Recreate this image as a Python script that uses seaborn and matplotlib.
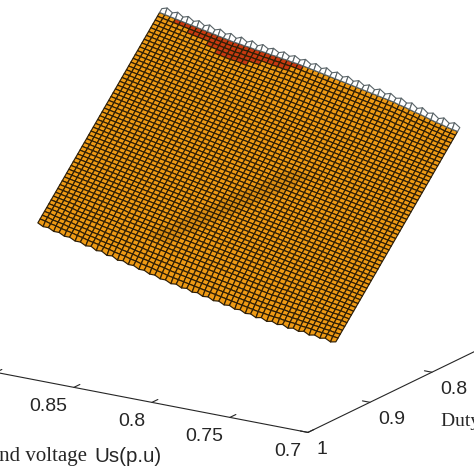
import numpy as np
import matplotlib
matplotlib.use('Agg')
import matplotlib.pyplot as plt
from matplotlib.colors import to_rgba
from matplotlib.transforms import ScaledTranslation
import seaborn as sns

sns.set_style('white')
plt.rcParams['font.family'] = ['Liberation Sans', 'DejaVu Sans']

us_ticks = [0.7, 0.75, 0.8, 0.85, 0.9, 0.95, 1.0]
us_labels = ['0.7', '0.75', '0.8', '0.85', '0.9', '0.95', '1']
duty_ticks = [0.4, 0.5, 0.6, 0.7, 0.8, 0.9, 1.0]
duty_labels = ['0.4', '0.5', '0.6', '0.7', '0.8', '0.9', '1']

us_grid = [0.7, 0.7034, 0.7068, 0.7102, 0.7136, 0.7171, 0.7205, 0.7239, 0.7273, 0.7307,
           0.7341, 0.7375, 0.7409, 0.7443, 0.7478, 0.7512, 0.7546, 0.758, 0.7614, 0.7648,
           0.7682, 0.7716, 0.775, 0.7785, 0.7819, 0.7853, 0.7887, 0.7921, 0.7955, 0.7989,
           0.8023, 0.8057, 0.8092, 0.8126, 0.816, 0.8194, 0.8228, 0.8262, 0.8296, 0.833,
           0.8364, 0.8399, 0.8433, 0.8467, 0.8501, 0.8535, 0.8569, 0.8603, 0.8637, 0.8671,
           0.8706, 0.874, 0.8774, 0.8808, 0.8842, 0.8876, 0.891]
duty_grid = [0.955, 0.9514, 0.9479, 0.9443, 0.9407, 0.9371, 0.9336, 0.93, 0.9264, 0.9229,
             0.9193, 0.9157, 0.9121, 0.9086, 0.905, 0.9014, 0.8979, 0.8943, 0.8907, 0.8871,
             0.8836, 0.88, 0.8764, 0.8729, 0.8693, 0.8657, 0.8621, 0.8586, 0.855, 0.8514,
             0.8479, 0.8443, 0.8407, 0.8371, 0.8336, 0.83, 0.8264, 0.8229, 0.8193, 0.8157,
             0.8121, 0.8086, 0.805, 0.8014, 0.7979, 0.7943, 0.7907, 0.7871, 0.7836, 0.78,
             0.7764, 0.7729, 0.7693, 0.7657, 0.7621, 0.7586, 0.755]

# surface height, one row per duty value
height = [
[140,138,143,141,145,143,148,146,150,148,153,151,155,153,158,156,161,160,165,164,169,168,173,172,177,176,181,180,185,184,189,188,193,193,198,198,203,203,208,208,213,212,218,217,223,222,228,227,232,232,237,237,242,242,247,247,252],
[145,146,148,149,150,152,153,154,156,157,158,160,161,162,164,165,167,169,171,173,175,177,179,181,183,185,187,189,191,193,195,197,199,202,204,207,209,211,214,216,219,221,223,226,228,231,233,235,238,240,243,245,247,250,252,255,257],
[150,151,153,154,156,157,159,160,162,163,165,166,168,169,171,172,174,176,178,180,182,184,186,188,190,192,194,196,198,200,202,204,206,209,211,213,216,218,220,223,225,227,230,232,234,236,239,241,243,246,248,250,253,255,257,260,262],
[155,157,158,160,161,163,164,166,167,169,170,172,173,175,176,178,180,182,184,186,188,190,192,194,196,198,200,202,204,206,208,210,212,215,217,219,221,224,226,228,231,233,235,237,240,242,244,246,249,251,253,256,258,260,262,265,267],
[160,162,163,165,166,168,170,171,173,174,176,178,179,181,182,184,186,188,190,192,194,196,198,200,202,204,206,208,210,212,214,216,218,220,223,225,227,229,232,234,236,238,241,243,245,247,250,252,254,256,259,261,263,265,268,270,272],
[165,167,168,170,172,174,175,177,179,181,182,184,186,188,189,191,193,195,197,199,201,203,205,207,209,211,213,215,217,219,221,223,225,227,230,232,234,236,238,240,242,245,247,249,251,253,255,258,260,262,264,266,268,271,273,275,277],
[170,172,174,175,177,179,181,183,184,186,188,190,192,193,195,197,199,201,203,205,207,209,211,213,215,217,219,221,223,225,227,229,231,233,235,237,240,242,244,246,248,250,252,254,257,259,261,263,265,267,269,271,274,276,278,280,282],
[175,177,179,180,182,184,186,188,189,191,193,195,197,198,200,202,204,206,208,210,212,214,216,218,220,222,224,226,228,230,232,234,236,238,240,242,245,247,249,251,253,255,257,259,262,264,266,268,270,272,274,276,279,281,283,285,287],
[180,182,184,186,187,189,191,193,195,197,199,201,202,204,206,208,210,212,214,216,218,220,222,224,226,228,230,232,234,236,238,240,242,244,246,248,250,252,255,257,259,261,263,265,267,269,271,273,275,277,280,282,284,286,288,290,292],
[185,187,189,191,193,195,197,199,200,202,204,206,208,210,212,214,216,218,220,222,224,226,228,230,232,234,236,238,240,242,244,246,248,250,252,254,256,258,260,262,264,266,268,270,273,275,277,279,281,283,285,287,289,291,293,295,297],
[190,192,194,196,198,200,202,204,205,207,209,211,213,215,217,219,221,223,225,227,229,231,233,235,237,239,241,243,245,247,249,251,253,255,257,259,261,263,265,267,269,271,273,275,278,280,282,284,286,288,290,292,294,296,298,300,302],
[195,197,199,201,203,205,207,209,211,213,215,217,219,221,223,225,227,229,231,233,235,237,239,241,243,245,247,249,251,253,255,257,259,261,263,265,267,269,271,273,275,277,279,281,283,285,287,289,291,293,295,297,299,301,303,305,307],
[200,202,204,206,208,210,212,214,216,218,220,222,224,226,228,230,232,234,236,238,240,242,244,246,248,250,252,254,256,258,260,262,264,266,268,270,272,274,276,278,280,282,284,286,288,290,292,294,296,298,300,302,304,306,308,310,312],
[205,207,209,211,213,215,217,219,221,223,225,227,229,231,233,235,237,239,241,243,245,247,249,251,253,255,257,259,261,263,265,267,269,271,273,275,277,279,281,283,285,287,289,291,293,295,297,299,301,303,305,307,309,311,313,315,317],
[210,212,214,216,218,220,222,224,226,228,230,232,234,236,238,240,242,244,246,248,250,252,254,256,258,260,262,264,266,268,270,272,274,276,278,280,282,284,286,288,290,292,294,296,298,300,302,304,306,308,310,312,314,316,318,320,322],
[215,217,219,221,223,225,227,229,231,233,235,237,239,241,243,245,247,249,251,253,255,257,259,261,263,265,267,269,271,273,275,277,279,281,283,285,287,289,291,293,295,297,299,301,303,305,307,309,311,313,315,317,319,321,323,325,327],
[220,222,224,226,228,230,232,234,236,238,240,242,244,246,248,250,252,254,256,258,260,262,264,266,268,270,272,274,276,278,280,282,284,286,288,290,292,294,296,298,300,302,304,306,308,310,312,314,316,318,320,322,324,326,328,330,332],
[225,227,229,231,233,235,237,239,241,243,245,247,249,251,253,255,257,259,261,263,265,267,269,271,273,275,277,279,281,283,285,287,289,291,293,295,297,299,301,303,305,307,309,311,313,315,317,319,321,323,325,327,329,331,333,335,337],
[230,232,234,236,238,240,242,244,246,248,250,252,254,256,258,260,262,264,266,268,270,272,274,276,278,280,282,284,286,288,290,292,294,296,298,300,302,304,306,308,310,312,314,316,318,320,322,324,326,328,330,332,334,336,338,340,342],
[235,237,239,241,243,245,247,249,251,253,255,257,259,261,263,265,267,269,271,273,275,277,279,281,283,285,287,289,291,293,295,297,299,301,303,305,307,309,311,313,315,317,319,321,323,325,327,329,331,333,335,337,339,341,343,345,347],
[240,242,244,246,248,250,252,254,256,258,260,262,264,266,268,270,272,274,276,278,280,282,284,286,288,290,292,294,296,298,300,302,304,306,308,310,312,314,316,318,320,322,324,326,328,330,332,334,336,338,340,342,344,346,348,350,352],
[245,247,249,251,253,255,257,259,261,263,265,267,269,271,273,275,277,279,281,283,285,287,289,291,293,295,297,299,301,303,305,307,309,311,313,315,317,319,321,323,325,327,329,331,333,335,337,339,341,343,345,347,349,351,353,355,357],
[250,252,254,256,258,260,262,264,266,268,270,272,274,276,278,280,282,284,286,288,290,292,294,296,298,300,302,304,306,308,310,312,314,316,318,320,322,324,326,328,330,332,334,336,338,340,342,344,346,348,350,352,354,356,358,360,362],
[255,257,259,261,263,265,267,269,271,273,275,277,279,281,283,285,287,289,291,293,295,297,299,301,303,305,307,309,311,313,315,317,319,321,323,325,327,329,331,333,335,337,339,341,343,345,347,349,351,353,355,357,359,361,363,365,367],
[260,262,264,266,268,270,272,274,276,278,280,282,284,286,288,290,292,294,296,298,300,302,304,306,308,310,312,314,316,318,320,322,324,326,328,330,332,334,336,338,340,342,344,346,348,350,352,354,356,358,360,362,364,366,368,370,372],
[265,267,269,271,273,275,277,279,281,283,285,287,289,291,293,295,297,299,301,303,305,307,309,311,313,315,317,319,321,323,325,327,329,331,333,335,337,339,341,343,345,347,349,351,353,355,357,359,361,363,365,367,369,371,373,375,377],
[270,272,274,276,278,280,282,284,286,288,290,292,294,296,298,300,302,304,306,308,310,312,314,316,318,320,322,324,326,328,330,332,334,336,338,340,342,344,346,348,350,352,354,356,358,360,362,364,366,368,370,372,374,376,378,380,382],
[275,277,279,281,283,285,287,289,291,293,295,297,299,301,303,305,307,309,311,313,315,317,319,321,323,325,327,329,331,333,335,337,339,341,343,345,347,349,351,353,355,357,359,361,363,365,367,369,371,373,375,377,379,381,383,385,387],
[280,282,284,286,288,290,292,294,296,298,300,302,304,306,308,310,312,314,316,318,320,322,324,326,328,330,332,334,336,338,340,342,344,346,348,350,352,354,356,358,360,362,364,366,368,370,372,374,376,378,380,382,384,386,388,390,392],
[285,287,289,291,293,295,297,299,301,303,305,307,309,311,313,315,317,319,321,323,325,327,329,331,333,335,337,339,341,343,345,347,349,351,353,355,357,359,361,363,365,367,369,371,373,375,377,379,381,383,385,387,389,391,393,395,397],
[290,292,294,296,298,300,302,304,306,308,310,312,314,316,318,320,322,324,326,328,330,332,334,336,338,340,342,344,346,348,350,352,354,356,358,360,362,364,366,368,370,372,374,376,378,380,382,384,386,388,390,392,394,396,398,400,402],
[295,297,299,301,303,305,307,309,311,313,315,317,319,321,323,325,327,329,331,333,335,337,339,341,343,345,347,349,351,353,355,357,359,361,363,365,367,369,371,373,375,377,379,381,383,385,387,389,391,393,395,397,399,401,403,405,407],
[300,302,304,306,308,310,312,314,316,318,320,322,324,326,328,330,332,334,336,338,340,342,344,346,348,350,352,354,356,358,360,362,364,366,368,370,372,374,376,378,380,382,384,386,388,390,392,394,396,398,400,402,404,406,408,410,412],
[305,307,309,311,313,315,317,319,321,323,325,327,329,331,333,335,337,339,341,343,345,347,349,351,353,355,357,359,361,363,365,367,369,371,373,375,377,379,381,383,385,387,389,391,393,395,397,399,401,403,405,407,409,411,413,415,417],
[310,312,314,316,318,320,322,324,326,328,330,332,334,336,338,340,342,344,346,348,350,352,354,356,358,360,362,364,366,368,370,372,374,376,378,380,382,384,386,388,390,392,394,396,398,400,402,404,406,408,410,412,414,416,418,420,422],
[315,317,319,321,323,325,327,329,331,333,335,337,339,341,343,345,347,349,351,353,355,357,359,361,363,365,367,369,371,373,375,377,379,381,383,385,387,389,391,393,395,397,399,401,403,405,407,409,411,413,415,417,419,421,423,425,427],
[320,322,324,326,328,330,332,334,336,338,340,342,344,346,348,350,352,354,356,358,360,362,364,366,368,370,372,374,376,378,380,382,384,386,388,390,392,394,396,398,400,402,404,406,408,410,412,414,416,418,420,422,424,426,428,430,432],
[325,327,329,331,333,335,337,339,341,343,345,347,349,351,353,355,357,359,361,363,365,367,369,371,373,375,377,379,381,383,385,387,389,391,393,395,397,399,401,403,405,407,409,411,413,415,417,419,421,423,425,427,429,431,433,435,437],
[330,332,334,336,338,340,342,344,346,348,350,352,354,356,358,360,362,364,366,368,370,372,374,376,378,380,382,384,386,388,390,392,394,396,398,400,402,404,406,408,410,412,414,416,418,420,422,424,426,428,430,432,434,436,438,440,442],
[335,337,339,341,343,345,347,349,351,353,355,357,359,361,363,365,367,369,371,373,375,377,379,381,383,385,387,389,391,393,395,397,399,401,403,405,407,409,411,413,415,417,419,421,423,425,427,429,431,433,435,437,439,441,443,445,447],
[340,342,344,346,348,350,352,354,356,358,360,362,364,366,368,370,372,374,376,378,380,382,384,386,388,390,392,394,396,398,400,402,404,406,408,410,412,414,416,418,420,422,424,426,428,430,432,434,436,438,440,442,444,446,448,450,452],
[345,347,349,351,353,355,357,359,361,363,365,367,369,371,373,375,377,379,381,383,385,387,389,391,393,395,397,399,401,403,405,407,409,411,413,415,417,419,421,423,425,427,429,431,433,435,437,439,441,443,445,447,449,451,453,455,457],
[350,352,354,356,358,360,362,364,366,368,370,372,374,376,378,380,382,384,386,388,390,392,394,396,398,400,402,404,406,408,410,412,414,416,418,420,422,424,426,428,430,432,434,436,438,440,442,444,446,448,450,452,454,456,458,460,462],
[355,357,359,361,363,365,367,369,371,373,375,377,379,381,383,385,387,389,391,393,395,397,399,401,403,405,407,409,411,413,415,417,419,421,423,425,427,429,431,433,435,437,439,441,443,445,447,449,451,453,455,457,459,461,463,465,467],
[360,362,364,366,368,370,372,374,376,378,380,382,384,386,388,390,392,394,396,398,400,402,404,406,408,410,412,414,416,418,420,422,424,426,428,430,432,434,436,438,440,442,444,446,448,450,452,454,456,458,460,462,464,466,468,470,472],
[365,367,369,371,373,375,377,379,381,383,385,387,389,391,393,395,397,399,401,403,405,407,409,411,413,415,417,419,421,423,425,427,429,431,433,435,437,439,441,443,445,447,449,451,453,455,457,459,461,463,465,467,469,471,473,475,477],
[370,372,374,376,378,380,382,385,387,389,391,393,395,397,399,401,403,405,407,409,411,413,415,417,419,421,423,425,427,429,431,433,435,437,439,441,443,444,446,448,450,452,454,456,458,460,462,464,466,468,470,472,474,476,478,480,482],
[375,377,379,381,383,385,387,390,392,394,396,398,400,402,404,406,408,410,412,414,416,418,420,422,424,426,428,430,432,434,436,438,440,442,444,446,448,449,451,453,455,457,459,461,463,465,467,469,471,473,475,477,479,481,483,485,487],
[380,382,384,386,388,391,393,395,397,399,402,404,406,408,410,412,414,416,418,420,422,424,426,428,430,432,434,436,438,440,442,444,446,448,449,451,453,455,457,459,460,462,464,466,468,470,472,474,476,478,480,482,484,486,488,490,492],
[385,387,389,391,394,396,398,401,403,405,407,410,412,414,416,418,420,422,424,426,428,430,432,434,436,438,440,442,444,446,448,450,452,453,455,457,459,460,462,464,466,467,469,471,473,475,477,479,481,483,485,487,489,491,493,495,497],
[390,392,394,396,399,401,403,406,408,410,412,415,417,419,421,423,425,427,429,431,433,435,437,439,441,443,445,447,449,451,453,455,457,458,460,462,464,465,467,469,471,472,474,476,478,480,482,484,486,488,490,492,494,496,498,500,502],
[395,397,399,401,404,406,409,411,413,416,418,421,423,425,427,429,431,433,435,437,439,441,443,445,447,449,451,453,455,457,459,461,462,464,466,467,469,471,472,474,476,477,479,481,483,485,487,489,491,493,495,497,499,501,503,505,507],
[400,402,404,407,409,412,414,417,419,422,424,427,429,431,433,435,437,439,441,443,445,447,449,451,453,455,457,459,461,463,465,467,468,470,471,473,475,476,478,479,481,482,484,486,488,490,492,494,496,498,500,502,504,506,508,510,512],
[405,407,409,412,414,417,419,422,424,427,429,432,434,436,438,440,442,444,446,448,450,452,454,456,458,460,462,464,466,468,470,472,473,475,476,478,480,481,483,484,486,487,489,491,493,495,497,499,501,503,505,507,509,511,513,515,517],
[410,412,414,417,419,422,424,427,430,432,435,437,440,442,444,446,448,450,452,454,456,458,460,462,464,466,468,470,472,474,476,478,479,481,482,484,485,487,488,490,491,493,494,496,498,500,502,504,506,508,510,512,514,516,518,520,522],
[415,417,419,422,424,427,430,433,435,438,441,443,446,448,450,452,454,456,458,460,462,464,466,468,470,472,474,476,478,480,482,483,485,486,488,489,491,492,493,495,496,498,499,501,503,505,507,509,511,513,515,517,519,521,523,525,527],
[420,427,424,432,429,437,435,443,440,448,446,453,451,458,455,462,459,466,463,470,467,474,471,478,475,482,479,486,483,490,487,493,490,496,493,499,496,502,498,505,501,508,504,511,508,515,512,519,516,523,520,527,524,531,528,535,532],
]

# cells that show the red sheet poking through near the far edge
red_rows = [54, 53, 52, 51]
red_from = [29, 31, 36, 38]
red_to = [53, 50, 46, 44]
# slightly darker cells along the crease
crease_rows = list(range(7, 33))
crease_mid = [36, 35, 35, 34, 33, 33, 32, 32, 31, 30, 30, 29, 28, 28, 27, 27, 26, 25, 25, 24, 23, 23, 22, 22, 21, 20]

fig = plt.figure(figsize=(4.74, 4.74), dpi=100)
ax = fig.add_axes([-231 / 474, -114 / 474, 956 / 474, 956 / 474], projection='3d', computed_zorder=False)
ax.set_proj_type('ortho')
ax.view_init(elev=17.8, azim=122.2)
ax.set_box_aspect((553, 698, 420))

X, Y = np.meshgrid(us_grid, duty_grid)
Z = np.array(height)

faces = np.empty((55, 56, 4))
faces[:, :] = to_rgba('#ee9a14')
for r, m in zip(crease_rows, crease_mid):
    faces[r, m - 2:m + 2] = to_rgba('#dc8e12')
for r, a, b in zip(red_rows, red_from, red_to):
    faces[r, a:b] = to_rgba('#c83a10')

ax.plot_surface(X[:56], Y[:56], Z[:56], facecolors=faces, rstride=1, cstride=1,
                edgecolor='#2e1e06', linewidth=0.85, shade=False, zorder=2)
ax.plot_surface(X[55:], Y[55:], Z[55:], color='white', rstride=1, cstride=1,
                edgecolor='#5a6468', linewidth=0.8, shade=False, zorder=3)

ax.set_xlim(0.7, 1.0)
ax.set_ylim(0.4, 1.0)
ax.set_zlim(0, 727)
ax.set_xticks(us_ticks, us_labels, fontsize=14)
ax.set_yticks(duty_ticks, duty_labels, fontsize=14)
ax.set_zticks([])
ax.grid(False)
for a in (ax.xaxis, ax.yaxis, ax.zaxis):
    a.set_pane_color((1, 1, 1, 0))
    a.pane.set_edgecolor((1, 1, 1, 0))
    a._axinfo['tick']['inward_factor'] = 0
    a._axinfo['tick']['outward_factor'] = 0.2
    a._axinfo['tick']['color'] = '#606060'
    a._axinfo['axisline']['color'] = '#606060'
ax.zaxis.line.set_color((1, 1, 1, 0))
ax.tick_params(axis='x', pad=-1.5, labelcolor='#262626')
ax.tick_params(axis='y', pad=-1.5, labelcolor='#262626')
plt.setp(ax.get_xticklabels(), ha='right')
plt.setp(ax.get_yticklabels(), ha='left')
# nudge the tick labels sideways, 3d axes only offer a pad along the tick
for lab in ax.get_xticklabels():
    lab.set_transform(lab.get_transform() + ScaledTranslation(-7 / 100, 0, fig.dpi_scale_trans))
for lab in ax.get_yticklabels():
    lab.set_transform(lab.get_transform() + ScaledTranslation(7 / 100, 0, fig.dpi_scale_trans))

fig.text(87 / 474, 1 - 457 / 474, 'Sending end voltage', family='Liberation Serif', fontsize=15, ha='right', va='center')
fig.text(94 / 474, 1 - 457 / 474, 'Us(p.u)', fontsize=14.8, ha='left', va='center')
fig.text(441 / 474, 1 - 421 / 474, 'Duty cycle', family='Liberation Serif', fontsize=14, ha='left', va='center')
fig.savefig('out.png', dpi=100)
